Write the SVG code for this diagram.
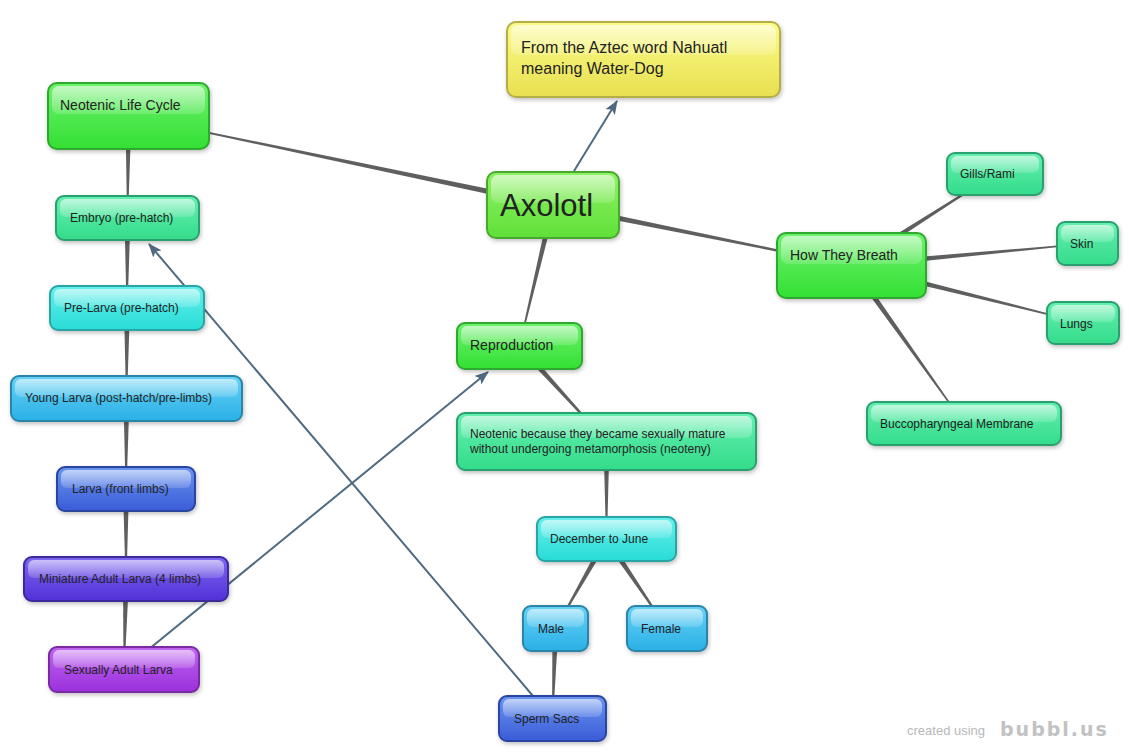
<svg xmlns="http://www.w3.org/2000/svg" width="1129" height="752" viewBox="0 0 1129 752">
<style>
text{font-family:"Liberation Sans",Arial,sans-serif;fill:#222}
.s{font-size:12px}
.m{font-size:14px}
.box{stroke-width:2}
.con{fill:#5f5f5f}
.arr{stroke:#4f6a80;stroke-width:2;fill:none;marker-end:url(#ah)}
.gl{fill:url(#gloss)}
</style>
<defs>
<linearGradient id="gMain" x1="0" y1="0" x2="0" y2="1"><stop offset="0" stop-color="#6ef26e"/><stop offset="1" stop-color="#33e033"/></linearGradient>
<linearGradient id="gAx" x1="0" y1="0" x2="0" y2="1"><stop offset="0" stop-color="#8ef266"/><stop offset="1" stop-color="#5fe038"/></linearGradient>
<linearGradient id="gSea" x1="0" y1="0" x2="0" y2="1"><stop offset="0" stop-color="#66f0b0"/><stop offset="1" stop-color="#33dc8a"/></linearGradient>
<linearGradient id="gCyan" x1="0" y1="0" x2="0" y2="1"><stop offset="0" stop-color="#66f0ec"/><stop offset="1" stop-color="#28dcd6"/></linearGradient>
<linearGradient id="gSky" x1="0" y1="0" x2="0" y2="1"><stop offset="0" stop-color="#66d2f6"/><stop offset="1" stop-color="#2ab0e6"/></linearGradient>
<linearGradient id="gBlue" x1="0" y1="0" x2="0" y2="1"><stop offset="0" stop-color="#6a94f0"/><stop offset="1" stop-color="#3a5cd8"/></linearGradient>
<linearGradient id="gInd" x1="0" y1="0" x2="0" y2="1"><stop offset="0" stop-color="#7f66f0"/><stop offset="1" stop-color="#5230d8"/></linearGradient>
<linearGradient id="gVio" x1="0" y1="0" x2="0" y2="1"><stop offset="0" stop-color="#c066f0"/><stop offset="1" stop-color="#9a30dc"/></linearGradient>
<linearGradient id="gYel" x1="0" y1="0" x2="0" y2="1"><stop offset="0" stop-color="#fbfb8a"/><stop offset="1" stop-color="#e8e050"/></linearGradient>
<linearGradient id="gloss" x1="0" y1="0" x2="0" y2="1"><stop offset="0" stop-color="#fff" stop-opacity="0.6"/><stop offset="1" stop-color="#fff" stop-opacity="0.15"/></linearGradient>
<filter id="sh" x="-10%" y="-10%" width="125%" height="140%"><feDropShadow dx="1" dy="2" stdDeviation="2" flood-color="#000" flood-opacity="0.25"/></filter>
<marker id="ah" viewBox="0 0 14 11" refX="13" refY="5.5" markerWidth="14" markerHeight="11" markerUnits="userSpaceOnUse" orient="auto"><path d="M0,0 L14,5.5 L0,11 L3,5.5 z" fill="#4f6a80"/></marker>
</defs>
<rect width="1129" height="752" fill="#fff"/>

<g id="connectors">
<polygon class="con" points="553.6,202.1 128.6,115.5 128.4,116.5 552.4,207.9"/>
<polygon class="con" points="552.4,207.9 851.4,266.0 851.6,265.0 553.6,202.1"/>
<polygon class="con" points="550.1,204.3 519.0,345.9 520.0,346.1 555.9,205.7"/>
<polygon class="con" points="125.5,116 127,218 128,218 131.5,116"/>
<polygon class="con" points="124.5,218 126.5,308 127.5,308 130.5,218"/>
<polygon class="con" points="124,308 126,398.5 127,398.5 130,308"/>
<polygon class="con" points="123.5,398.5 125.5,489 126.5,489 129.5,398.5"/>
<polygon class="con" points="123,489 125.5,579 126.5,579 129,489"/>
<polygon class="con" points="123,579 123.5,669.5 124.5,669.5 129,579"/>
<polygon class="con" points="853.1,268.0 995.3,174.4 994.7,173.6 849.9,263.0"/>
<polygon class="con" points="851.8,268.5 1087.5,244.0 1087.5,243.0 851.2,262.5"/>
<polygon class="con" points="850.8,268.4 1082.9,323.5 1083.1,322.5 852.2,262.6"/>
<polygon class="con" points="849.1,267.2 963.6,423.8 964.4,423.2 853.9,263.8"/>
<polygon class="con" points="517.3,348.0 606.1,441.8 606.9,441.2 521.7,344.0"/>
<polygon class="con" points="603.5,441.5 606,539 607,539 609.5,441.5"/>
<polygon class="con" points="603.9,537.5 555.1,628.3 555.9,628.7 609.1,540.5"/>
<polygon class="con" points="604.0,540.7 666.6,628.8 667.4,628.2 609.0,537.3"/>
<polygon class="con" points="552.5,628.5 552,718.5 553,718.5 558.5,628.5"/>
<line class="arr" x1="574" y1="171" x2="617" y2="101"/>
<line class="arr" x1="533" y1="696" x2="149" y2="244"/>
<line class="arr" x1="151.5" y1="647" x2="488" y2="372"/>
</g>

<g id="n-yellow"><rect class="box" x="507" y="22" width="273" height="75" rx="9" fill="url(#gYel)" stroke="#b5ad45" filter="url(#sh)"/><rect class="gl" x="511" y="25" width="265" height="30" rx="7"/><text x="521" y="53" style="font-size:16px">From the Aztec word Nahuatl</text><text x="521" y="74" style="font-size:16px">meaning Water-Dog</text></g>

<g id="n-axolotl"><rect class="box" x="487" y="172" width="132" height="66" rx="9" fill="url(#gAx)" stroke="#4aa82e" filter="url(#sh)"/><rect class="gl" x="491" y="175" width="124" height="28" rx="7"/><text x="500" y="216" style="font-size:31px">Axolotl</text></g>

<g id="n-lifecycle"><rect class="box" x="48" y="83" width="161" height="66" rx="9" fill="url(#gMain)" stroke="#2ea82e" filter="url(#sh)"/><rect class="gl" x="52" y="86" width="153" height="28" rx="7"/><text class="m" x="60" y="110">Neotenic Life Cycle</text></g>

<g id="n-embryo"><rect class="box" x="56" y="196" width="143" height="44" rx="8" fill="url(#gSea)" stroke="#2aa070" filter="url(#sh)"/><rect class="gl" x="60" y="199" width="135" height="18" rx="6"/><text class="s" x="70" y="222">Embryo (pre-hatch)</text></g>

<g id="n-prelarva"><rect class="box" x="50" y="286" width="154" height="44" rx="8" fill="url(#gCyan)" stroke="#2aa5a5" filter="url(#sh)"/><rect class="gl" x="54" y="289" width="146" height="18" rx="6"/><text class="s" x="64" y="312">Pre-Larva (pre-hatch)</text></g>

<g id="n-younglarva"><rect class="box" x="11" y="376" width="231" height="45" rx="8" fill="url(#gSky)" stroke="#2a85a8" filter="url(#sh)"/><rect class="gl" x="15" y="379" width="223" height="18" rx="6"/><text class="s" x="25" y="402">Young Larva (post-hatch/pre-limbs)</text></g>

<g id="n-larva"><rect class="box" x="57" y="467" width="138" height="44" rx="8" fill="url(#gBlue)" stroke="#2a45a0" filter="url(#sh)"/><rect class="gl" x="61" y="470" width="130" height="18" rx="6"/><text class="s" x="72" y="493">Larva (front limbs)</text></g>

<g id="n-miniature"><rect class="box" x="24" y="557" width="204" height="44" rx="8" fill="url(#gInd)" stroke="#3a2a9a" filter="url(#sh)"/><rect class="gl" x="28" y="560" width="196" height="18" rx="6"/><text class="s" x="39" y="583">Miniature Adult Larva (4 limbs)</text></g>

<g id="n-sexually"><rect class="box" x="49" y="647" width="150" height="45" rx="8" fill="url(#gVio)" stroke="#7a2aa0" filter="url(#sh)"/><rect class="gl" x="53" y="650" width="142" height="18" rx="6"/><text class="s" x="64" y="674">Sexually Adult Larva</text></g>

<g id="n-breath"><rect class="box" x="777" y="233" width="149" height="65" rx="9" fill="url(#gMain)" stroke="#2ea82e" filter="url(#sh)"/><rect class="gl" x="781" y="236" width="141" height="28" rx="7"/><text class="m" x="790" y="260">How They Breath</text></g>

<g id="n-gills"><rect class="box" x="947" y="153" width="96" height="42" rx="8" fill="url(#gSea)" stroke="#2aa070" filter="url(#sh)"/><rect class="gl" x="951" y="156" width="88" height="17" rx="6"/><text class="s" x="960" y="178">Gills/Rami</text></g>

<g id="n-skin"><rect class="box" x="1057" y="222" width="61" height="43" rx="8" fill="url(#gSea)" stroke="#2aa070" filter="url(#sh)"/><rect class="gl" x="1061" y="225" width="53" height="17" rx="6"/><text class="s" x="1070" y="248">Skin</text></g>

<g id="n-lungs"><rect class="box" x="1047" y="302" width="72" height="42" rx="8" fill="url(#gSea)" stroke="#2aa070" filter="url(#sh)"/><rect class="gl" x="1051" y="305" width="64" height="17" rx="6"/><text class="s" x="1060" y="328">Lungs</text></g>

<g id="n-bucco"><rect class="box" x="867" y="402" width="194" height="43" rx="8" fill="url(#gSea)" stroke="#2aa070" filter="url(#sh)"/><rect class="gl" x="871" y="405" width="186" height="17" rx="6"/><text class="s" x="880" y="428">Buccopharyngeal Membrane</text></g>

<g id="n-reproduction"><rect class="box" x="457" y="323" width="125" height="46" rx="8" fill="url(#gMain)" stroke="#2ea82e" filter="url(#sh)"/><rect class="gl" x="461" y="326" width="117" height="19" rx="6"/><text class="m" x="470" y="350">Reproduction</text></g>

<g id="n-neotenic"><rect class="box" x="457" y="413" width="299" height="57" rx="8" fill="url(#gSea)" stroke="#2aa070" filter="url(#sh)"/><rect class="gl" x="461" y="416" width="291" height="22" rx="6"/><text class="s" x="470" y="438">Neotenic because they became sexually mature</text><text class="s" x="470" y="453">without undergoing metamorphosis (neoteny)</text></g>

<g id="n-december"><rect class="box" x="537" y="517" width="139" height="44" rx="8" fill="url(#gCyan)" stroke="#2aa5a5" filter="url(#sh)"/><rect class="gl" x="541" y="520" width="131" height="18" rx="6"/><text class="s" x="550" y="543">December to June</text></g>

<g id="n-male"><rect class="box" x="523" y="606" width="65" height="45" rx="8" fill="url(#gSky)" stroke="#2a85a8" filter="url(#sh)"/><rect class="gl" x="527" y="609" width="57" height="18" rx="6"/><text class="s" x="538" y="633">Male</text></g>

<g id="n-female"><rect class="box" x="627" y="606" width="80" height="45" rx="8" fill="url(#gSky)" stroke="#2a85a8" filter="url(#sh)"/><rect class="gl" x="631" y="609" width="72" height="18" rx="6"/><text class="s" x="641" y="633">Female</text></g>

<g id="n-sperm"><rect class="box" x="499" y="696" width="107" height="45" rx="8" fill="url(#gBlue)" stroke="#2a45a0" filter="url(#sh)"/><rect class="gl" x="503" y="699" width="99" height="18" rx="6"/><text class="s" x="514" y="723">Sperm Sacs</text></g>

<g id="watermark"><text x="907" y="735" style="font-size:13px;fill:#b8b8b8">created using</text><text x="1000" y="736" style="font-family:'DejaVu Sans',sans-serif;font-size:19px;font-weight:bold;fill:#c2c2c2;letter-spacing:2px">bubbl.us</text></g>
</svg>
